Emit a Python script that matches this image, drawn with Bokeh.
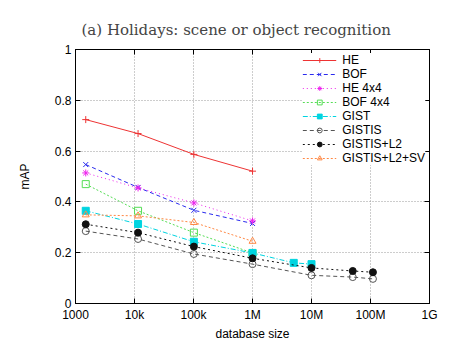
from bokeh.plotting import figure
from bokeh.models import FixedTicker, LinearAxis, LogAxis, Range1d
from bokeh.embed import file_html
from bokeh.resources import INLINE

# ---- data ----
sizes4 = [1491, 11491, 101491, 1001491]
sizes_gist = [1491, 11491, 101491, 1001491, 5000000, 10000000]
sizes_ext = [1491, 11491, 101491, 1001491, 10000000, 50000000, 110000000]

he = [0.724, 0.669, 0.587, 0.521]
bof = [0.547, 0.457, 0.367, 0.315]
he_4x4 = [0.514, 0.455, 0.396, 0.325]
bof_4x4 = [0.470, 0.365, 0.279, 0.199]
gist = [0.365, 0.313, 0.243, 0.199, 0.160, 0.155]
gistis = [0.285, 0.254, 0.195, 0.155, 0.111, 0.104, 0.097]
gistis_l2 = [0.312, 0.279, 0.224, 0.178, 0.140, 0.128, 0.123]
gistis_l2_sv = [0.349, 0.345, 0.319, 0.245]

xticks = [1e3, 1e4, 1e5, 1e6, 1e7, 1e8, 1e9]
xtick_labels = ["1000", "10k", "100k", "1M", "10M", "100M", "1G"]
yticks = [0, 0.2, 0.4, 0.6, 0.8, 1.0]
ytick_labels = ["0", "0.2", "0.4", "0.6", "0.8", "1"]

series = [
    ("HE", sizes4, he, "#ee3333", "solid", "cross", True),
    ("BOF", sizes4, bof, "#2a2aee", "4 3", "x", True),
    ("HE 4x4", sizes4, he_4x4, "#ee22ee", "1 3", "asterisk", True),
    ("BOF 4x4", sizes4, bof_4x4, "#55dd55", "2 2", "square", False),
    ("GIST", sizes_gist, gist, "#00d4e0", "5 2 1 2", "square", True),
    ("GISTIS", sizes_ext, gistis, "#555555", "4 3", "circle", False),
    ("GISTIS+L2", sizes_ext, gistis_l2, "#111111", "2 3", "circle", True),
    ("GISTIS+L2+SV", sizes4, gistis_l2_sv, "#ff8844", "2 2", "triangle", False),
]

FONT = "Liberation Sans"

p = figure(width=458, height=349, x_axis_type="log",
           x_range=Range1d(1e3, 1e9), y_range=Range1d(0, 1),
           output_backend="svg", toolbar_location=None,
           min_border_left=75, min_border_right=29,
           min_border_top=49, min_border_bottom=46)

p.title.text = "(a) Holidays: scene or object recognition"
p.title.text_font = "DejaVu Serif"
p.title.text_font_size = "15px"
p.title.text_font_style = "normal"
p.title.align = "left"
p.title.offset = 6
p.title.standoff = 22

p.outline_line_color = "black"
p.outline_line_width = 1

for ax in (p.xaxis[0], p.yaxis[0]):
    ax.major_label_text_font = FONT
    ax.major_label_text_font_size = "12px"
    ax.major_label_text_color = "black"
    ax.axis_label_text_font = FONT
    ax.axis_label_text_font_size = "12px"
    ax.axis_label_text_font_style = "normal"
    ax.axis_label_text_color = "black"
    ax.major_tick_in = 5
    ax.major_tick_out = 0
    ax.minor_tick_line_color = None
    ax.axis_line_color = "black"
    ax.major_tick_line_color = "black"

p.xaxis.ticker = FixedTicker(ticks=xticks)
p.xaxis.major_label_overrides = {t: l for t, l in zip(xticks, xtick_labels)}
p.xaxis.axis_label = "database size"
p.xaxis.major_label_standoff = 4
p.xaxis.axis_label_standoff = 2

p.yaxis.ticker = FixedTicker(ticks=yticks)
p.yaxis.major_label_overrides = {t: l for t, l in zip(yticks, ytick_labels)}
p.yaxis.axis_label = "mAP"
p.yaxis.major_label_standoff = 4
p.yaxis.axis_label_standoff = 20

top = LogAxis(ticker=FixedTicker(ticks=xticks), major_tick_in=5, major_tick_out=0,
              minor_tick_line_color=None, major_label_text_font_size="1px",
              major_label_text_alpha=0, major_label_standoff=0, axis_line_color="black")
right = LinearAxis(ticker=FixedTicker(ticks=yticks), major_tick_in=5, major_tick_out=0,
                   minor_tick_line_color=None, major_label_text_font_size="1px",
                   major_label_text_alpha=0, major_label_standoff=0, axis_line_color="black")
p.add_layout(top, "above")
p.add_layout(right, "right")

p.xgrid.ticker = FixedTicker(ticks=xticks)
p.ygrid.ticker = FixedTicker(ticks=yticks)
for g in (p.xgrid[0], p.ygrid[0]):
    g.grid_line_color = "#9a9a9a"
    g.grid_line_dash = "1 2"
    g.grid_line_width = 1

for label, xs, ys, color, dash, marker, filled in series:
    p.line(xs, ys, line_color=color, line_dash=dash, line_width=1, legend_label=label)
    p.scatter(xs, ys, marker=marker, size=7, line_color=color, line_width=1,
              fill_color=color if filled else None, legend_label=label)

p.legend.location = "top_right"
p.legend.margin = 4
p.legend.padding = 2
p.legend.spacing = 0
p.legend.label_height = 12
p.legend.glyph_height = 12
p.legend.glyph_width = 34
p.legend.label_standoff = 6
p.legend.label_text_font = FONT
p.legend.label_text_font_size = "12px"
p.legend.label_text_line_height = 1.0
p.legend.label_text_color = "black"
p.legend.background_fill_color = "white"
p.legend.background_fill_alpha = 1.0
p.legend.border_line_color = None

open("out.html", "w").write(file_html(p, INLINE))
